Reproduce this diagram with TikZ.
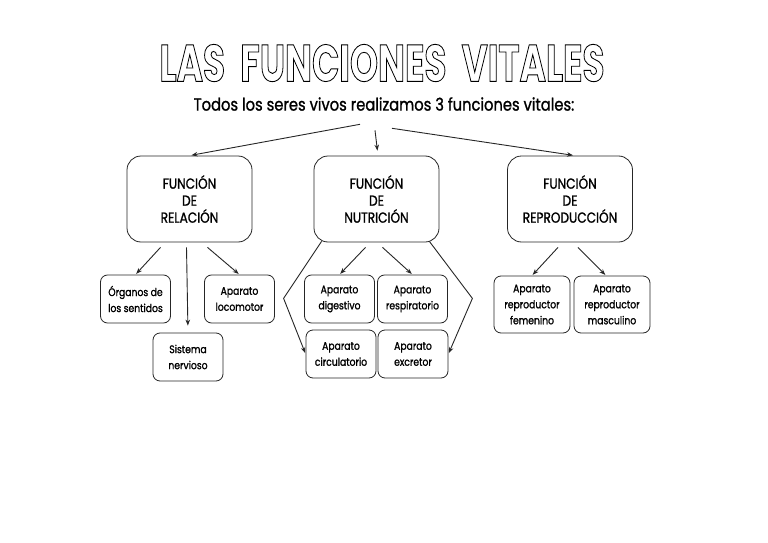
\documentclass[tikz,border=0pt]{standalone}
\usepackage{fontspec}
\setmainfont{Poppins}
\newfontfamily\bodyfont[FakeStretch=0.84,FakeBold=1.2]{Poppins}
\newfontfamily\titlefont[FakeStretch=0.78]{Poppins}
\usetikzlibrary{arrows.meta,calc}
\newcommand{\outlinetext}[1]{\special{pdf:literal direct 1 Tr 0.9 w}#1\special{pdf:literal direct 0 Tr}}
\tikzset{
  bigbox/.style={draw=black!85, line width=0.8pt, rounded corners=14pt, minimum width=125pt, minimum height=86pt, align=center, font=\bodyfont\fontsize{14.5}{17}\selectfont, inner sep=1pt},
  smallbox/.style={draw=black!85, line width=0.8pt, rounded corners=7pt, minimum width=70pt, minimum height=48pt, align=center, font=\bodyfont\fontsize{11}{16}\selectfont, inner sep=1pt},
  arr/.style={draw=black!85, line width=0.9pt, -{Stealth[length=6pt,width=4.5pt]}},
}
\begin{document}
\begin{tikzpicture}[x=1pt,y=-1pt]
\useasboundingbox[fill=white] (0,0) rectangle (768,543);
\node (title) at (382,63) {\resizebox{445pt}{37pt}{\titlefont\bfseries\fontsize{53}{53}\selectfont\outlinetext{LAS~~FUNCIONES~~VITALES}}};
\node[font=\bodyfont\fontsize{17.5}{20}\selectfont] (sub) at (384,104) {Todos los seres vivos realizamos 3 funciones vitales:};

\node[bigbox] (rel) at (189.5,199) {FUNCIÓN\\DE\\RELACIÓN};
\node[bigbox] (nut) at (376.5,199) {FUNCIÓN\\DE\\NUTRICIÓN};
\node[bigbox] (rep) at (570,199) {FUNCIÓN\\DE\\REPRODUCCIÓN};

\node[smallbox] (org) at (135.5,299) {Órganos de\\los sentidos};
\node[smallbox] (loc) at (239.5,299) {Aparato\\locomotor};
\node[smallbox] (sis) at (188,357) {Sistema\\nervioso};

\node[smallbox] (dig) at (339.5,299) {Aparato\\digestivo};
\node[smallbox] (res) at (412.5,299) {Aparato\\respiratorio};
\node[smallbox] (cir) at (341,354) {Aparato\\circulatorio};
\node[smallbox] (exc) at (413,354) {Aparato\\excretor};

\node[smallbox, minimum width=76pt, minimum height=57pt] (fem) at (532,304.5) {Aparato\\reproductor\\femenino};
\node[smallbox, minimum width=76pt, minimum height=57pt] (mas) at (612,304.5) {Aparato\\reproductor\\masculino};

% from subtitle
\draw[arr, shorten >=2pt] ([xshift=-24pt,yshift=-10pt]sub.south) -- (rel.north);
\draw[arr, shorten >=5pt] ([xshift=-9pt,yshift=-16pt]sub.south) -- ([xshift=1.5pt]nut.north);
\draw[arr, shorten >=2pt] ([xshift=8pt,yshift=-14pt]sub.south) -- ([xshift=5pt]rep.north);

% relacion
\draw[arr, shorten >=1pt] ([xshift=-29pt,yshift=-5pt]rel.south) -- (org.north);
\draw[arr, shorten >=7pt] ([xshift=-3pt,yshift=-5pt]rel.south) -- (sis.north);
\draw[arr, shorten >=1pt] ([xshift=18pt,yshift=-5pt]rel.south) -- (loc.north);

% nutricion
\draw[arr, shorten >=1pt] ([xshift=-11pt,yshift=-5pt]nut.south) -- (dig.north);
\draw[arr, shorten >=1pt] ([xshift=6pt,yshift=-5pt]nut.south) -- (res.north);
\draw[arr, shorten >=1pt] ([xshift=8pt,yshift=1pt]nut.south west) -- ++(-38,57) -- (cir.west);
\draw[arr, shorten >=1pt] ([xshift=-10pt,yshift=1pt]nut.south east) -- ++(43,57) -- (exc.east);

% reproduccion
\draw[arr, shorten >=1pt] ([xshift=-12pt,yshift=-5pt]rep.south) -- (fem.north);
\draw[arr, shorten >=1pt] ([xshift=8pt,yshift=-5pt]rep.south) -- ([xshift=-6pt]mas.north);
\end{tikzpicture}
\end{document}
